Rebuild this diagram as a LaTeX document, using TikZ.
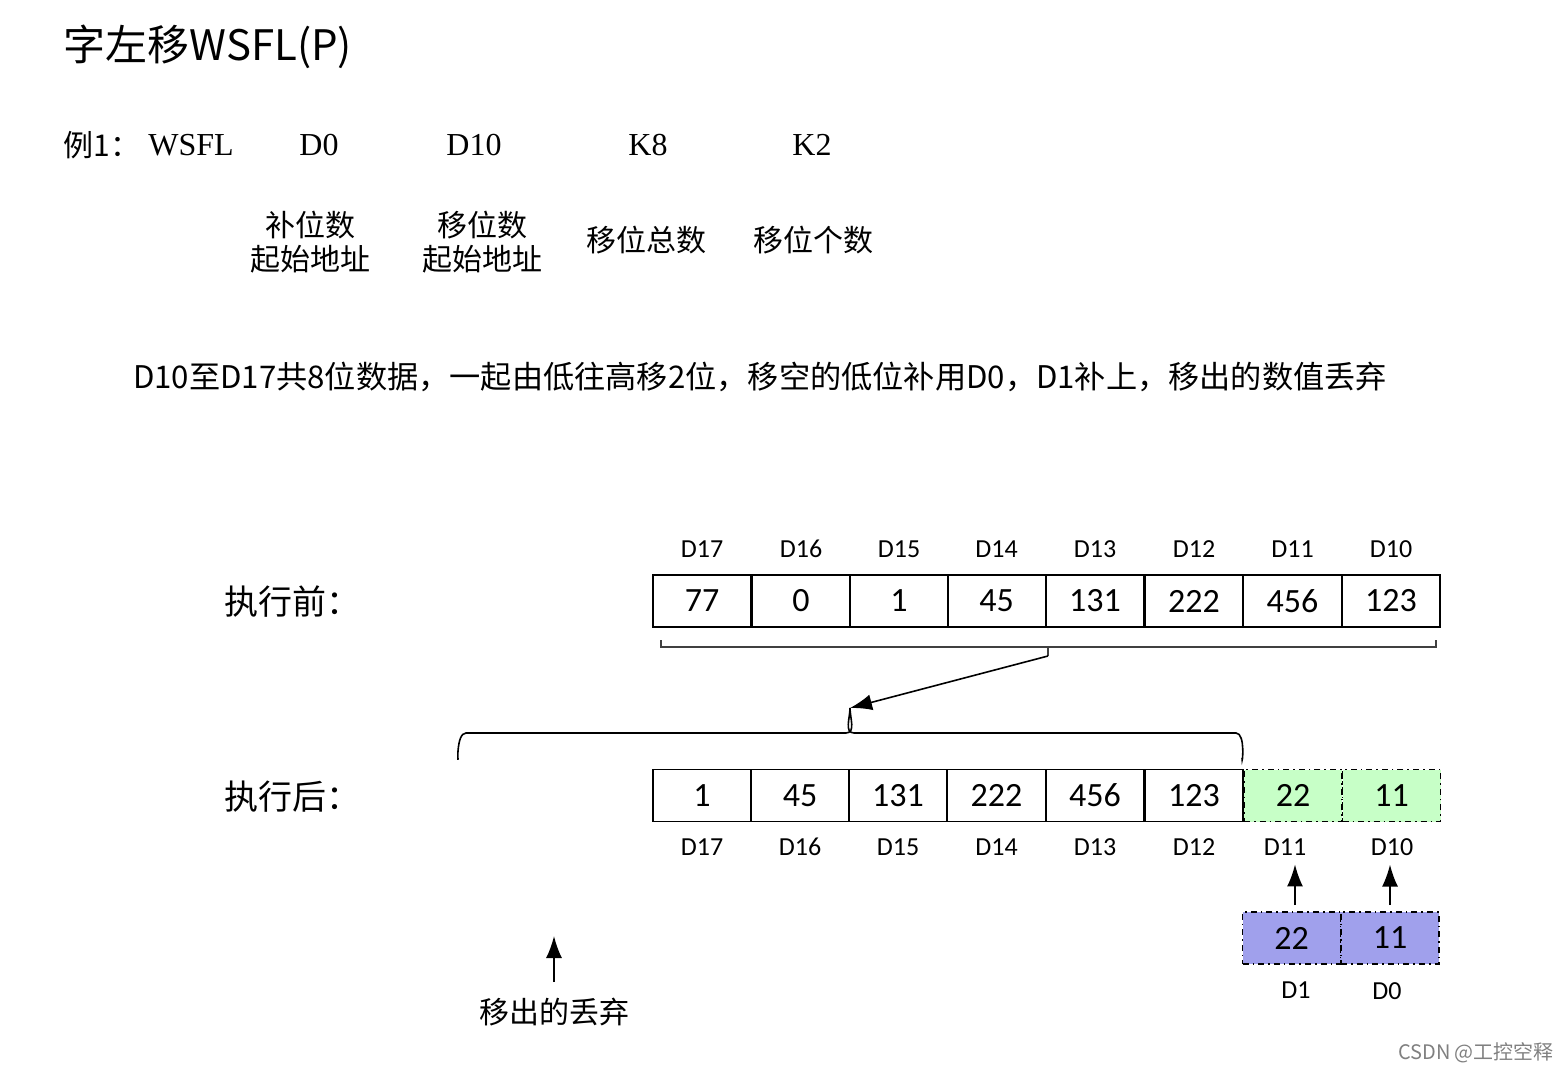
\documentclass[tikz,border=0pt]{standalone}
\usepackage{fontspec}
\setmainfont{Carlito}
\newfontfamily\cjk{Noto Sans CJK SC}
\newfontfamily\serifl{Liberation Serif}
\usetikzlibrary{arrows.meta}
\begin{document}
\begin{tikzpicture}[x=0.5pt,y=-0.5pt,
 cell/.style={draw,thick,minimum width=49pt,minimum height=26pt,inner sep=0pt,font=\fontsize{17}{17}\selectfont},
 lab/.style={font=\fontsize{13}{13}\selectfont},
 cj/.style={font=\cjk\fontsize{15}{15}\selectfont},
 arr/.style={thick,-{Latex[length=11pt,width=8pt]}},
 gcell/.style={cell,fill=green!22,dash dot,thick},
 bcell/.style={cell,fill=blue!35!white!85!gray,dash dot,thick}]
\useasboundingbox (0,0) rectangle (1559,1071);
\node[anchor=west,font=\cjk\fontsize{21}{21}\selectfont,inner sep=0pt] (title) at (63,47) {字左移WSFL(P)};
\node[anchor=west,font=\cjk\fontsize{15}{15}\selectfont,inner sep=0pt] (ex) at (63,145) {例1：};
\foreach \t/\x [count=\i] in {WSFL/191,D0/319,D10/474,K8/648,K2/812}
  \node[font=\serifl\fontsize{16}{16}\selectfont] (op\i) at (\x,145) {\t};
\node[cj,align=center] (c1) at (310,242) {补位数\\[2pt]起始地址};
\node[cj,align=center] (c2) at (482,242) {移位数\\[2pt]起始地址};
\node[cj] (c3) at (646,240) {移位总数};
\node[cj] (c4) at (813,240) {移位个数};
\node[cj,font=\cjk\fontsize{15.6}{15.6}\selectfont] (desc) at (760,377) {D10至D17共8位数据，一起由低往高移2位，移空的低位补用D0，D1补上，移出的数值丢弃};
\node[cj,font=\cjk\fontsize{17}{17}\selectfont] (before) at (292,602) {执行前：};
\node[cj,font=\cjk\fontsize{17}{17}\selectfont] (after) at (292,797) {执行后：};
% top row
\foreach \v/\l/\x [count=\i] in {77/D17/702,0/D16/801,1/D15/899,45/D14/996.5,131/D13/1095,222/D12/1194,456/D11/1292.5,123/D10/1391}{
  \node[cell] (t\i) at (\x,601) {\v};
  \node[lab] (tl\i) at (\x,549) {\l};}
% bottom row
\foreach \v/\l/\x [count=\i] in {1/D17/702,45/D16/800,131/D15/898,222/D14/996.5,456/D13/1095,123/D12/1194}{
  \node[cell] (b\i) at (\x,795.5) {\v};
  \node[lab] (bl\i) at (\x,847) {\l};}
\node[gcell] (g1) at (1293,795.5) {22};
\node[gcell] (g2) at (1391.5,795.5) {11};
\node[lab] (gl1) at (1285,847) {D11};
\node[lab] (gl2) at (1392,847) {D10};
\node[bcell] (p1) at (1291.5,938) {22};
\node[bcell] (p2) at (1390,938) {11};
\node[lab] (pl1) at (1296,990) {D1};
\node[lab] (pl2) at (1387,991) {D0};
\draw[arr] (p1.north -| gl1) ++(10,-6) coordinate (a1s) -- ([yshift=-1pt]gl1.south -| a1s);
\draw[arr] (p2.north -| gl2) ++(-2,-6) coordinate (a2s) -- ([yshift=-1pt]gl2.south -| a2s);
% braces
\draw[thick,gray!50!black] (661,640) -- (661,647) -- (1048,647) -- (1048,656) coordinate (bt) (1048,647) -- (1436,647) -- (1436,640);
\draw[thick] (458,758) to[out=-90,in=180] (466,733) -- (846,733) to[out=0,in=-90] (850,708) coordinate (bb) to[out=-90,in=180] (854,733) -- (1236,733) to[out=0,in=-90] (1242,758);
\draw[arr] (bt) -- (bb);
\coordinate (da) at (554,982);
\node[cj] (drop) at (554,1012) {移出的丢弃};
\draw[arr] (da) -- (554,936);
\node[font=\fontsize{10}{10}\selectfont\cjk,gray] (wm) at (1476,1053) {CSDN @工控空释};
\end{tikzpicture}
\end{document}
